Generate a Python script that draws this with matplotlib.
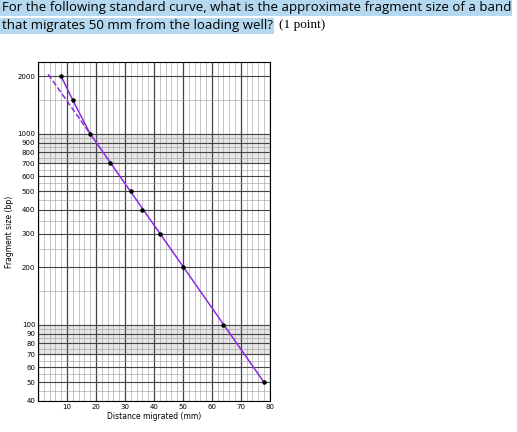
import matplotlib
matplotlib.use("Agg")
import matplotlib.pyplot as plt
import numpy as np

dist = [8, 12, 18, 25, 32, 36, 42, 50, 64, 78]
size = [2000, 1500, 1000, 700, 500, 400, 300, 200, 100, 50]
fit_x = [3.5, 18, 78]
fit_y = [2050, 1000, 50]
yticks = [40, 50, 60, 70, 80, 90, 100, 200, 300, 400, 500, 600, 700, 800, 900, 1000, 2000]
xticks = [10, 20, 30, 40, 50, 60, 70, 80]

fig = plt.figure(figsize=(5.17, 4.32), dpi=100)
ax = fig.add_axes([0.0735, 0.072, 0.4485, 0.784])
ax.set_yscale('log')
ax.set_xlim(0, 80)
ax.set_ylim(40, 2370)
ax.axhspan(700, 1000, color='#e6e6e6', zorder=0)
ax.axhspan(70, 100, color='#e6e6e6', zorder=0)
for x in np.arange(0, 81, 2):
    ax.axvline(x, color='#444' if x % 10 == 0 else '#999', lw=0.9 if x % 10 == 0 else 0.4, zorder=1)
for d in [10, 100, 1000]:
    for m in np.arange(1, 10, 0.5):
        v = d * m
        if 40 <= v <= 2370:
            ax.axhline(v, color='#999', lw=0.4, zorder=1)
for v in yticks:
    ax.axhline(v, color='#444', lw=0.8, zorder=1)
ax.plot(fit_x[1:], fit_y[1:], color='#8a2be2', lw=1.1, zorder=3)
ax.plot(dist[:3], size[:3], color='#8a2be2', lw=1.1, zorder=3)
ax.plot(fit_x[:2], fit_y[:2], color='#8a2be2', lw=1.1, ls='--', zorder=3)
ax.scatter(dist, size, s=5, color='black', zorder=4)
ax.set_yticks(yticks)
ax.set_yticklabels([str(t) for t in yticks])
ax.yaxis.set_minor_locator(matplotlib.ticker.NullLocator())
ax.set_xticks(xticks)
ax.tick_params(labelsize=5, length=0, pad=2)
ax.set_xlabel('Distance migrated (mm)', fontsize=5.5, labelpad=2)
ax.set_ylabel('Fragment size (bp)', fontsize=5.5, labelpad=2)
for s in ax.spines.values():
    s.set_linewidth(0.8)

fig.text(0.003, 0.997, 'For the following standard curve, what is the approximate fragment size of a band',
         fontsize=9.5, va='top', ha='left', family='Open Sans',
         bbox=dict(facecolor='#b4d8f0', edgecolor='none', pad=1))
fig.text(0.003, 0.955, 'that migrates 50 mm from the loading well?',
         fontsize=9.5, va='top', ha='left', family='Open Sans',
         bbox=dict(facecolor='#b4d8f0', edgecolor='none', pad=1))
fig.text(0.54, 0.957, '(1 point)', fontsize=9.5, va='top', ha='left', family='Liberation Serif')
fig.savefig('out.png', dpi=100)
